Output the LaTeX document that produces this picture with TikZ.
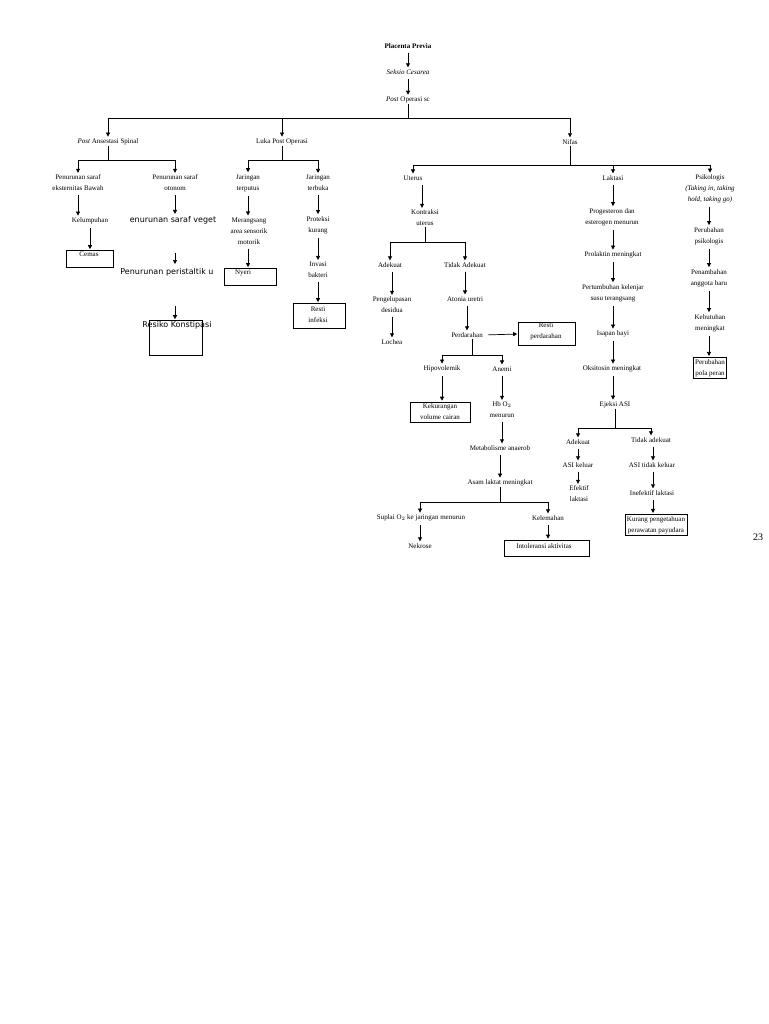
\documentclass[tikz,border=0pt]{standalone}
\usepackage{fontspec}
\setmainfont{Liberation Serif}
\newfontfamily\dvs{DejaVu Sans}
\usetikzlibrary{arrows.meta}
\begin{document}
\begin{tikzpicture}[x=1pt,y=-1pt,
  every node/.style={font=\fontsize{7}{11}\selectfont,align=center,inner sep=1pt},
  arr/.style={-{Triangle[length=4pt,width=4pt]},shorten <=3pt,shorten >=1pt,line width=0.7pt},
  ln/.style={line width=0.7pt},
  bx/.style={draw,line width=0.7pt,inner sep=2pt},
  sans/.style={font=\dvs\fontsize{8}{10}\selectfont}]
\useasboundingbox (0,0) rectangle (768,1024);
\fill[white] (0,0) rectangle (768,1024);
\node (pp) at (408,46) {\textbf{Placenta Previa}};
\node (sc) at (408,72) {\textit{Seksio Cesarea}};
\node (po) at (408,100) {\textit{Post} Operasi sc};
\node (pas) at (108,142) {\textit{Post} Ansestasi Spinal};
\node (lpo) at (282,142) {Luka Post Operasi};
\node (nif) at (570,142) {Nifas};
\draw[arr] (pp) -- (sc);
\draw[arr] (sc) -- (po);
\draw[ln] (po.south) -- (408,118) coordinate (j0);
\draw[arr,shorten <=0pt] (j0) -| (pas.north);
\draw[arr,shorten <=0pt] (j0) -| (lpo.north);
\draw[arr,shorten <=0pt] (j0) -| (nif.north);
% left branch
\node (pse) at (78,183) {Penurunan saraf\\eksternitas Bawah};
\node (pso) at (175,183) {Penurunan saraf\\otonom};
\draw[ln] (pas.south) -- (108,160) coordinate (j1);
\draw[arr,shorten <=0pt] (j1) -| (pse.north);
\draw[arr,shorten <=0pt] (j1) -| (pso.north);
\node (kel) at (90,221) {Kelumpuhan};
\node[sans] (psv) at (173,220) {enurunan saraf veget};
\node[bx,minimum width=47pt,minimum height=17pt] (cem) at (90,259) {};
\node at (89,254) {Cemas};
\node[sans] (ppu) at (167,272) {Penurunan peristaltik u};
\node[bx,minimum width=53pt,minimum height=35pt] (rk) at (176,338) {};
\node[sans] (rkt) at (177,325) {Resiko Konstipasi};
\draw[arr] (pse) -- (pse|-kel.north);
\draw[arr] (kel) -- (cem);
\draw[arr] (pso) -- (pso|-psv.north);
\draw[arr] (175,250) -- (175,265);
\draw[arr] (175,303) -- (rk.north-|175,0);
% luka
\node (jtp) at (248,183) {Jaringan\\terputus};
\node (jtb) at (318,183) {Jaringan\\terbuka};
\draw[ln] (lpo.south) -- (282,160) coordinate (j2);
\draw[arr,shorten <=0pt] (j2) -| (jtp.north);
\draw[arr,shorten <=0pt] (j2) -| (jtb.north);
\node (mer) at (249,231) {Merangsang\\area sensorik\\motorik};
\node[bx,minimum width=52pt,minimum height=17pt] (nye) at (250,277) {};
\node at (243,273) {Nyeri};
\node (pk) at (318,225) {Proteksi\\kurang};
\node (ib) at (318,270) {Invasi\\bakteri};
\node[bx,minimum width=52pt,minimum height=25pt] (ri) at (319,316) {};
\node at (318,315) {Resti\\infeksi};
\draw[arr] (jtp) -- (jtp|-mer.north);
\draw[arr] (mer.south-|248,0) -- (nye.north-|248,0);
\draw[arr] (jtb) -- (pk);
\draw[arr] (pk) -- (ib);
\draw[arr] (ib) -- (ri.north-|318,0);
% nifas
\node (ut) at (413,178) {Uterus};
\node (lak) at (613,178) {Laktasi};
\node (psi) at (710,178) {Psikologis};
\draw[ln] (nif.south) -- (570,165) coordinate (j3);
\draw[arr,shorten <=0pt] (j3) -| (ut.north);
\draw[arr,shorten <=0pt] (j3) -| (lak.north);
\draw[arr,shorten <=0pt] (j3) -| (psi.north);
\node (ku) at (425,218) {Kontraksi\\uterus};
\draw[arr] (ut.south-|422,0) -- (ku.north-|422,0);
\node (ade) at (390,265) {Adekuat};
\node (tad) at (465,265) {Tidak Adekuat};
\draw[ln] (ku.south) -- (425,242) coordinate (j4);
\draw[arr,shorten <=0pt] (j4) -| (ade.north);
\draw[arr,shorten <=0pt] (j4) -| (tad.north);
\node (pd) at (392,305) {Pengelupasan\\desidua};
\node (loc) at (392,342) {Lochea};
\draw[arr] (ade.south-|392,0) -- (pd);
\draw[arr] (pd) -- (loc);
\node (au) at (465,299) {Atonia uretri};
\node (per) at (467,335) {Perdarahan};
\draw[arr] (tad) -- (au);
\draw[arr] (au.south-|467,0) -- (per);
\node[bx,minimum width=57pt,minimum height=23pt] (rp) at (547,334) {};
\node at (546,331) {Resti\\perdarahan};
\draw[arr,shorten <=4pt] (per.east) -- (rp.west);
\node (hip) at (442,369) {Hipovolemik};
\node (ane) at (502,369) {Anemi};
\draw[ln] (per.south-|472,0) -- (472,355) coordinate (j5);
\draw[arr,shorten <=0pt] (j5) -| (hip.north);
\draw[arr,shorten <=0pt] (j5) -| (ane.north);
\node[bx,minimum width=60pt] (kvc) at (440,412) {Kekurangan\\volume cairan};
\draw[arr] (hip) -- (kvc.north-|hip);
\node (hb) at (502,410) {Hb O$_2$\\menurun};
\node (ma) at (500,448) {Metabolisme anaerob};
\node (al) at (500,483) {Asam laktat meningkat};
\draw[arr] (ane) -- (hb);
\draw[arr] (hb.south-|502,0) -- (ma.north-|502,0);
\draw[arr] (ma) -- (al);
\node (so) at (421,518) {Suplai O$_2$ ke jaringan menurun};
\node (kl) at (548,518) {Kelemahan};
\draw[ln] (al.south) -- (500,502) coordinate (j6);
\draw[arr,shorten <=0pt] (j6) -| (so.north-|420,0);
\draw[arr,shorten <=0pt] (j6) -| (kl.north);
\node (nek) at (420,546) {Nekrose};
\draw[arr] (so.south-|420,0) -- (nek);
\node[bx,minimum width=85pt,minimum height=16pt] (ia) at (547,548) {};
\node at (544,546) {Intoleransi aktivitas};
\draw[arr] (kl) -- (ia.north-|kl);
% laktasi
\node (pem) at (612,217) {Progesteron dan\\esterogen menurun};
\node (pm) at (613,255) {Prolaktin meningkat};
\node (pkj) at (613,293) {Pertumbuhan kelenjar\\susu terangsang};
\node (ib2) at (613,334) {Isapan bayi};
\node (om) at (612,369) {Oksitosin meningkat};
\node (ej) at (615,405) {Ejeksi ASI};
\draw[arr] (lak) -- (pem.north-|lak);
\draw[arr] (pem.south-|613,0) -- (pm.north-|613,0);
\draw[arr] (pm) -- (pkj);
\draw[arr] (pkj) -- (ib2);
\draw[arr] (ib2) -- (om.north-|613,0);
\draw[arr] (om.south-|613,0) -- (ej.north-|613,0);
\node (ad2) at (578,442) {Adekuat};
\node (ta2) at (651,440) {Tidak adekuat};
\draw[ln] (ej.south) -- (615,428) coordinate (j7);
\draw[arr,shorten <=0pt] (j7) -| (ad2.north);
\draw[arr,shorten <=0pt] (j7) -| (ta2.north);
\node (ak) at (578,465) {ASI keluar};
\node (el) at (579,494) {Efektif\\laktasi};
\draw[arr] (ad2) -- (ak);
\draw[arr] (ak) -- (el.north-|578,0);
\node (atk) at (652,465) {ASI tidak keluar};
\node (il) at (652,493) {Inefektif laktasi};
\node[bx] (kp) at (656,525) {Kurang pengetahuan\\perawatan payudara};
\draw[arr] (ta2.south-|653,0) -- (atk.north-|653,0);
\draw[arr] (atk.south-|653,0) -- (il.north-|653,0);
\draw[arr] (il.south-|653,0) -- (kp.north-|653,0);
% psikologis
\node (tk) at (710,194) {\textit{(Taking in, taking}\\\textit{hold, taking go)}};
\node (pps) at (709,236) {Perubahan\\psikologis};
\node (pab) at (709,278) {Penambahan\\anggota baru};
\node (kbm) at (710,323) {Kebutuhan\\meningkat};
\node[bx] (ppr) at (710,368) {Perubahan\\pola peran};
\draw[arr] (tk.south-|709,0) -- (pps.north-|709,0);
\draw[arr] (pps) -- (pab);
\draw[arr] (pab) -- (kbm.north-|709,0);
\draw[arr] (kbm.south-|709,0) -- (ppr.north-|709,0);
\node[font=\fontsize{10}{12}\selectfont] (pg) at (758,537) {23};
\end{tikzpicture}
\end{document}
